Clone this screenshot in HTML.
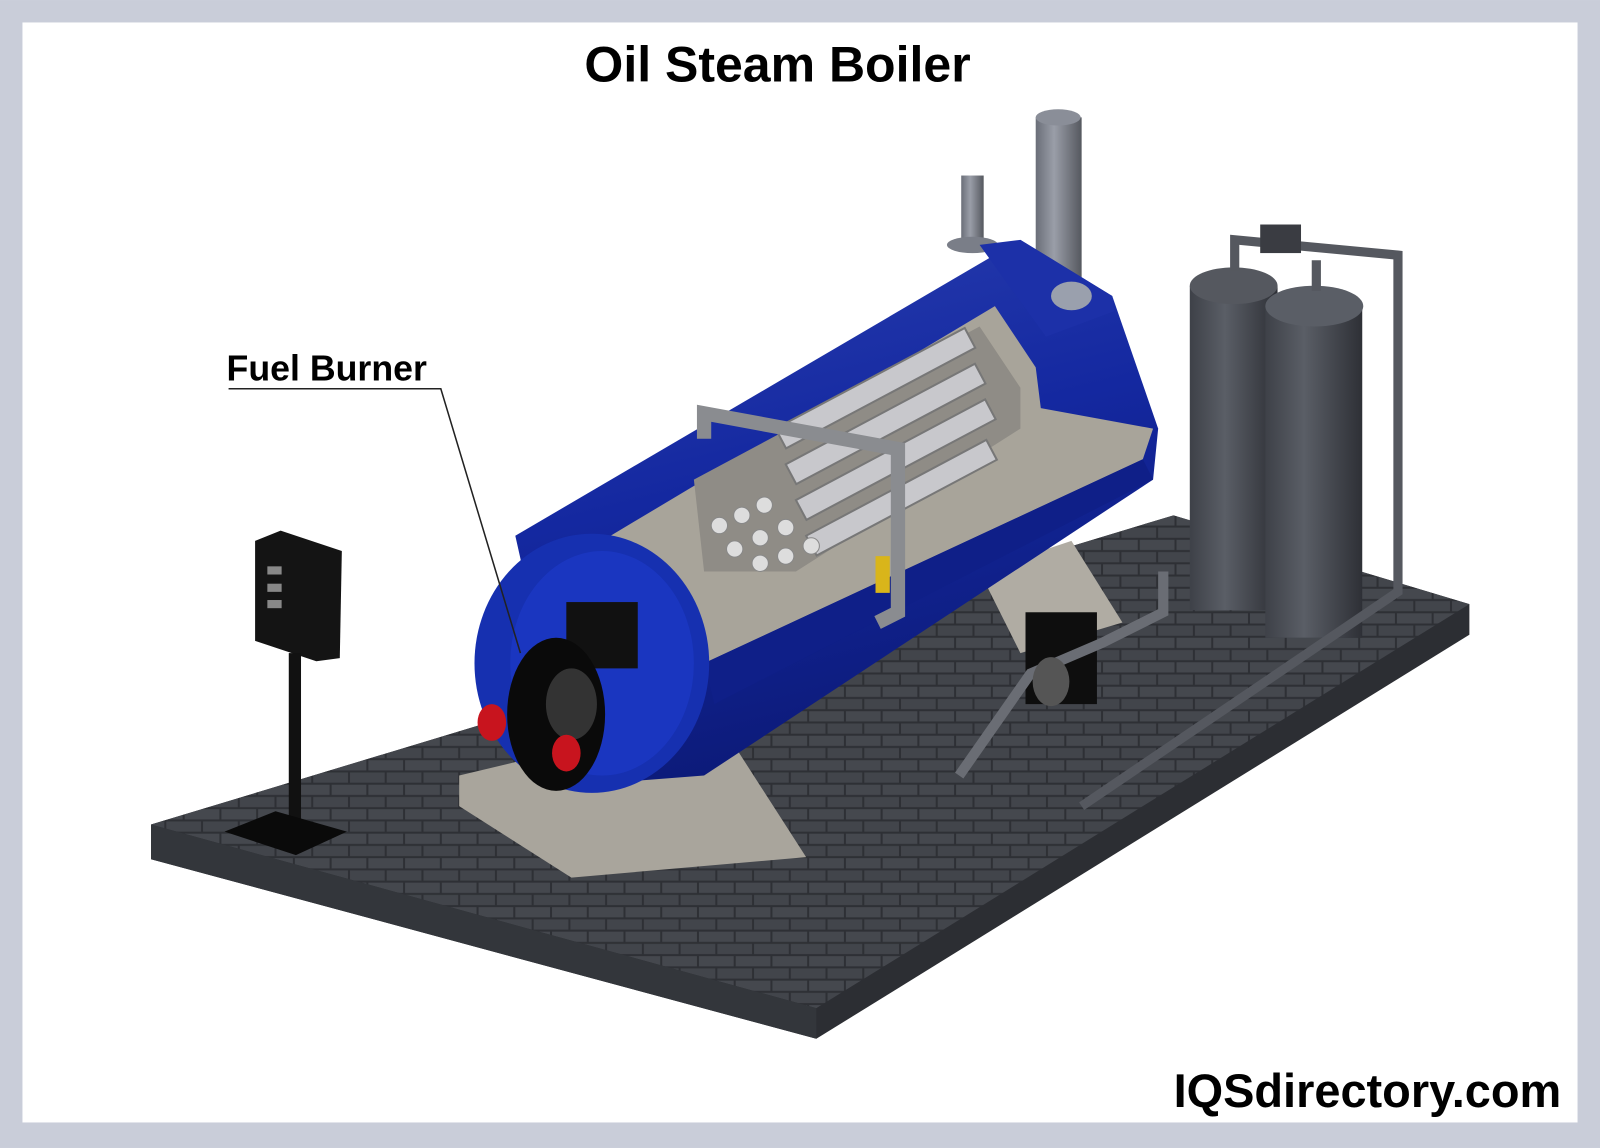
<!DOCTYPE html>
<html><head><meta charset="utf-8">
<style>
html,body{margin:0;padding:0;background:#fff;}
svg{display:block;}
</style></head>
<body>
<svg width="1600" height="1148" viewBox="0 0 1568 1125" xmlns="http://www.w3.org/2000/svg">
<defs>
<pattern id="stone" width="36" height="24" patternUnits="userSpaceOnUse">
<rect width="36" height="24" fill="#2e3035"/>
<rect x="1" y="1" width="34" height="10" fill="#45484e"/>
<rect x="-17" y="13" width="34" height="10" fill="#42454b"/>
<rect x="19" y="13" width="34" height="10" fill="#42454b"/>
</pattern>
<linearGradient id="blue" x1="0" y1="0" x2="0.3" y2="1">
<stop offset="0" stop-color="#2a3fb0"/><stop offset="0.5" stop-color="#1428a0"/><stop offset="1" stop-color="#0c1a78"/>
</linearGradient>
<linearGradient id="tank" x1="0" y1="0" x2="1" y2="0">
<stop offset="0" stop-color="#3e4148"/><stop offset="0.4" stop-color="#5a5e66"/><stop offset="1" stop-color="#2e3036"/>
</linearGradient>
<linearGradient id="pipe" x1="0" y1="0" x2="1" y2="0">
<stop offset="0" stop-color="#6a6e78"/><stop offset="0.4" stop-color="#9a9ea8"/><stop offset="1" stop-color="#55585f"/>
</linearGradient>
</defs>
<rect x="0" y="0" width="1568" height="1125" fill="#c9cdd9"/>
<rect x="22" y="22" width="1524" height="1078" fill="#fff"/>

<polygon points="148,808 1150,505 1440,592 1440,622 800,1018 148,842" fill="#2c2e33"/>
<polygon points="148,808 1150,505 1440,592 800,988" fill="url(#stone)"/>
<polygon points="148,808 800,988 800,1018 148,842" fill="#33363b"/>

<rect x="1015" y="115" width="45" height="290" fill="url(#pipe)"/>
<ellipse cx="1037" cy="115" rx="22" ry="8" fill="#8a8e98"/>
<rect x="942" y="172" width="22" height="70" fill="url(#pipe)"/>
<ellipse cx="953" cy="240" rx="25" ry="8" fill="#7a7e88"/>

<polygon points="450,760 700,700 790,840 560,860 450,790" fill="#a9a59c"/>
<polygon points="960,560 1050,530 1100,610 1000,640" fill="#b0aca3"/>

<polygon points="505,525 1000,235 1090,290 1135,420 1130,470 690,760 560,770" fill="url(#blue)"/>
<polygon points="590,530 975,300 1015,360 1020,400 1130,420 1120,450 690,650 640,560" fill="#a8a49a"/>
<polygon points="680,470 960,320 1000,380 1000,420 780,560 690,560" fill="#8f8c86"/>
<g fill="#c8c8cc" stroke="#777" stroke-width="2">
<rect x="760" y="420" width="210" height="22" transform="rotate(-28 760 420)"/>
<rect x="770" y="455" width="210" height="22" transform="rotate(-28 770 455)"/>
<rect x="780" y="490" width="210" height="22" transform="rotate(-28 780 490)"/>
<rect x="790" y="525" width="200" height="22" transform="rotate(-28 790 525)"/>
</g>
<g fill="#ddd" stroke="#888">
<circle cx="705" cy="515" r="8"/><circle cx="727" cy="505" r="8"/><circle cx="749" cy="495" r="8"/>
<circle cx="720" cy="538" r="8"/><circle cx="745" cy="527" r="8"/><circle cx="770" cy="517" r="8"/>
<circle cx="745" cy="552" r="8"/><circle cx="770" cy="545" r="8"/><circle cx="795" cy="535" r="8"/>
</g>
<polygon points="690,650 1120,450 1130,470 700,690" fill="#0f1f88"/>
<polygon points="960,240 1000,235 1090,290 1092,305 1025,330" fill="#1c30a8"/>
<ellipse cx="1050" cy="290" rx="20" ry="14" fill="#9aa0ad"/>
<path d="M690,430 L690,405 L880,440 L880,600 L860,610" fill="none" stroke="#8a8c90" stroke-width="14"/>
<rect x="858" y="545" width="14" height="36" fill="#d9b51a"/>
<ellipse cx="580" cy="650" rx="115" ry="127" fill="#1630b0"/>
<ellipse cx="590" cy="650" rx="90" ry="110" fill="#1a36c0"/>
<rect x="555" y="590" width="70" height="65" fill="#111"/>
<ellipse cx="545" cy="700" rx="48" ry="75" fill="#0a0a0a"/>
<ellipse cx="560" cy="690" rx="25" ry="35" fill="#333"/>
<ellipse cx="482" cy="708" rx="14" ry="18" fill="#c8141e"/>
<ellipse cx="555" cy="738" rx="14" ry="18" fill="#c8141e"/>
<rect x="1005" y="600" width="70" height="90" fill="#0e0e0e"/>
<path d="M940,760 L1010,660 L1080,630 L1140,600 L1140,560" fill="none" stroke="#6a6d74" stroke-width="10"/>
<ellipse cx="1030" cy="668" rx="18" ry="24" fill="#555"/>
<rect x="1166" y="280" width="86" height="318" fill="url(#tank)"/>
<ellipse cx="1209" cy="280" rx="43" ry="18" fill="#55585f"/>
<rect x="1240" y="300" width="95" height="325" fill="url(#tank)"/>
<ellipse cx="1288" cy="300" rx="48" ry="20" fill="#5a5e66"/>
<path d="M1210,265 L1210,235 L1370,250 L1370,580 L1060,790" fill="none" stroke="#55585f" stroke-width="9"/>
<path d="M1290,285 L1290,255" stroke="#55585f" stroke-width="9"/>
<rect x="1235" y="220" width="40" height="28" fill="#3a3c42"/>
<polygon points="250,530 275,520 335,540 333,645 310,648 250,628" fill="#141414"/>
<rect x="262" y="555" width="14" height="8" fill="#888"/><rect x="262" y="572" width="14" height="8" fill="#888"/><rect x="262" y="588" width="14" height="8" fill="#888"/>
<rect x="283" y="640" width="12" height="170" fill="#111"/>
<polygon points="220,815 270,795 340,815 290,838" fill="#0a0a0a"/>

<text x="762" y="80" text-anchor="middle" font-family="Liberation Sans, sans-serif" font-weight="bold" font-size="49" fill="#000">Oil Steam Boiler</text>
<text x="222" y="373" font-family="Liberation Sans, sans-serif" font-weight="bold" font-size="35" fill="#000">Fuel Burner</text>
<polyline points="224,381 432,381 510,640" fill="none" stroke="#222" stroke-width="1.5"/>
<text x="1530" y="1085" text-anchor="end" font-family="Liberation Sans, sans-serif" font-weight="bold" font-size="46" fill="#000">IQSdirectory.com</text>
</svg>
</body></html>
